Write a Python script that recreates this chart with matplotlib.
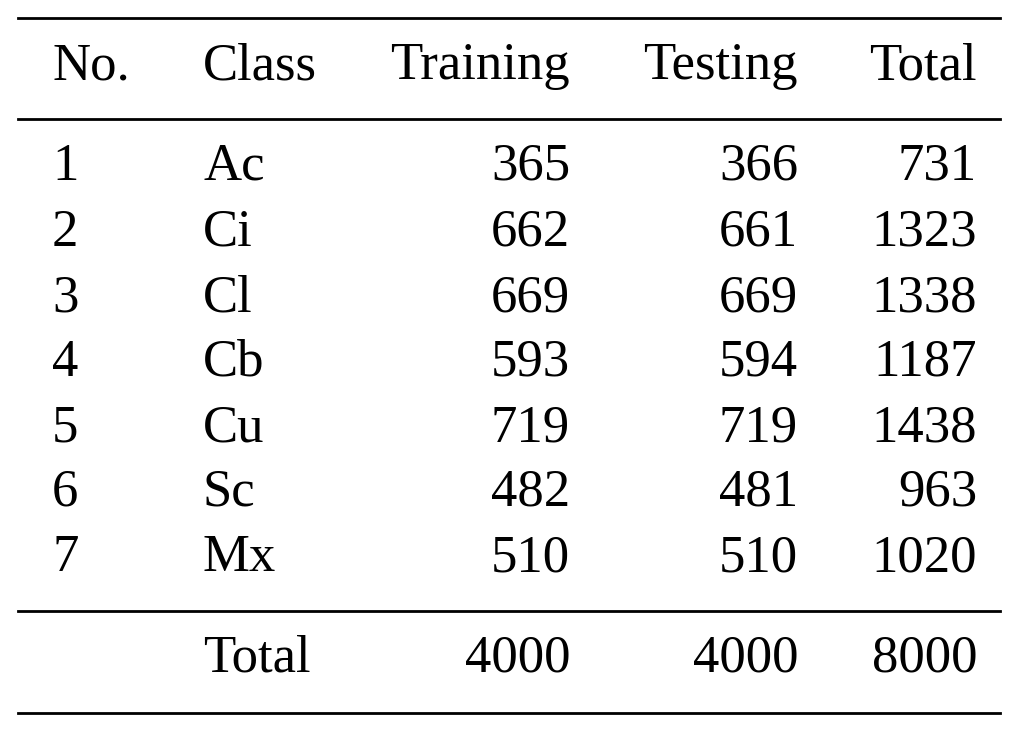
import matplotlib; matplotlib.use('Agg')
import matplotlib.pyplot as plt

header = ['No.', 'Class', 'Training', 'Testing', 'Total']
nums = ['1', '2', '3', '4', '5', '6', '7']
classes = ['Ac', 'Ci', 'Cl', 'Cb', 'Cu', 'Sc', 'Mx']
training = [365, 662, 669, 593, 719, 482, 510]
testing = [366, 661, 669, 594, 719, 481, 510]
totals = [731, 1323, 1338, 1187, 1438, 963, 1020]
sum_row = ['', 'Total', '4000', '4000', '8000']

plt.rcParams['font.family'] = ['Liberation Serif', 'DejaVu Serif']
fig = plt.figure(figsize=(10.33, 7.33), dpi=100)
ax = fig.add_axes([0, 0, 1, 1])
ax.set_xlim(0, 1033); ax.set_ylim(733, 0); ax.axis('off')

FS = 38
colx = [52, 203, 570, 798, 977]
align = ['left', 'left', 'right', 'right', 'right']

def row(vals, y):
    for x, ha, v in zip(colx, align, vals):
        ax.text(x, y, str(v), ha=ha, va='center', fontsize=FS, color='black')

for y in [18, 119, 611, 713]:
    ax.plot([18, 1000], [y, y], color='black', lw=2)

row(header, 66)
ys = [167, 233, 298, 363, 428, 493, 558]
for i, y in enumerate(ys):
    row([nums[i], classes[i], training[i], testing[i], totals[i]], y)
row(sum_row, 659)

fig.savefig('out.png', dpi=100, facecolor='white')
